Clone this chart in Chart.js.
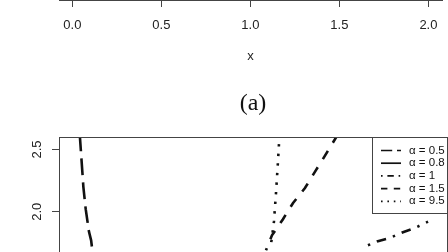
<!DOCTYPE html>
<html>
<head>
<meta charset="utf-8">
<script src="https://cdn.jsdelivr.net/npm/chart.js@4/dist/chart.umd.min.js"></script>
<style>
    html, body { margin: 0; padding: 0; background: #fff; }
    body { width: 448px; height: 252px; overflow: hidden; position: relative; }
    canvas { position: absolute; left: 0; }
    #chartA { top: -40px; }
    #chartB { top: 120px; }
</style>
</head>
<body>
<canvas id="chartA" width="448" height="170"></canvas>
<canvas id="chartB" width="448" height="230"></canvas>
<script>
// axis ticks
var xTicks = [0, 0.5, 1, 1.5, 2];
var xTickLabels = ['0.0', '0.5', '1.0', '1.5', '2.0'];
var yTicks = [1.5, 2.0, 2.5];
var yTickLabels = ['1.5', '2.0', '2.5'];

// curves of panel (b)
var alphas = ['0.5', '0.8', '1', '1.5', '9.5'];
var alpha05X = [0.040, 0.051, 0.060, 0.073, 0.091, 0.103, 0.108];
var alpha05Y = [2.62, 2.39, 2.20, 2.02, 1.84, 1.77, 1.71];
var alpha08X = [];
var alpha08Y = [];
var alpha1X = [1.637, 1.687, 1.759, 1.831, 1.898, 1.970];
var alpha1Y = [1.73, 1.76, 1.79, 1.835, 1.87, 1.92];
var alpha15X = [1.470, 1.399, 1.343, 1.288, 1.222, 1.166, 1.105, 1.072];
var alpha15Y = [2.62, 2.45, 2.32, 2.19, 2.07, 1.94, 1.81, 1.69];
var alpha95X = [1.147, 1.137, 1.127, 1.116, 1.104, 1.097];
var alpha95Y = [2.62, 2.37, 2.14, 1.92, 1.78, 1.72];

var xMin = -0.075, xMax = 2.075;
var INK = '#111';
var AXIS = '#444';
var sans = 'Liberation Sans';

// R line types, in units of line width
var lwd = 2.4;
var ltys = [[7, 3], [], [1, 3, 4, 3], [4, 4], [1, 3]];

function pts(xs, ys) {
    var out = [];
    for (var i = 0; i < xs.length; i++) out.push({ x: xs[i], y: ys[i] });
    return out;
}

var curves = [pts(alpha05X, alpha05Y), pts(alpha08X, alpha08Y), pts(alpha1X, alpha1Y),
    pts(alpha15X, alpha15Y), pts(alpha95X, alpha95Y)];

// box round the plot region
var frame = {
    id: 'frame',
    afterDraw: function (chart) {
        var a = chart.chartArea, c = chart.ctx;
        c.save();
        c.strokeStyle = AXIS;
        c.lineWidth = 1;
        c.strokeRect(Math.round(a.left) + 0.5, Math.round(a.top) + 0.5,
            Math.round(a.right) - Math.round(a.left), Math.round(a.bottom) - Math.round(a.top));
        c.restore();
    }
};

// topright legend like R's legend()
var legendBox = {
    id: 'legendBox',
    afterDatasetsDraw: function (chart) {
        var a = chart.chartArea, c = chart.ctx;
        var w = 75, h = 76;
        var left = Math.round(a.right) - w, top = Math.round(a.top);
        c.save();
        c.fillStyle = '#fff';
        c.fillRect(left, top, w, h);
        c.strokeStyle = AXIS;
        c.lineWidth = 1;
        c.strokeRect(left + 0.5, top + 0.5, w, h);
        chart.data.datasets.forEach(function (ds, i) {
            var y = top + 13.5 + i * 12.7;
            c.strokeStyle = INK;
            c.lineWidth = 1.7;
            c.setLineDash(ds.borderDash.map(function (d) { return d * 2 / 3; }));
            c.beginPath();
            c.moveTo(left + 9, y);
            c.lineTo(left + 29, y);
            c.stroke();
            c.setLineDash([]);
            c.fillStyle = INK;
            c.font = '11.5px "' + sans + '"';
            c.textBaseline = 'middle';
            c.fillText(ds.label, left + 37, y);
        });
        c.restore();
    }
};

//panel (a): only the bottom of it is in view
var ctxA = document.getElementById('chartA').getContext('2d');
var chartA = new Chart(ctxA, {
    type: 'scatter',
    data: { datasets: [] },
    options: {
        responsive: false,
        animation: false,
        layout: { padding: { left: 59, right: 1, top: 0, bottom: 12 } },
        plugins: {
            legend: { display: false },
            tooltip: { enabled: false },
            title: {
                display: true,
                text: '(a)',
                position: 'bottom',
                color: INK,
                padding: 0,
                font: { family: 'Liberation Serif', size: 24, weight: 'normal', lineHeight: 1.2 }
            }
        },
        scales: {
            x: {
                type: 'linear',
                min: xMin,
                max: xMax,
                afterFit: function (s) { s.height = 89.2; },
                afterBuildTicks: function (s) { s.ticks = xTicks.map(function (v) { return { value: v }; }); },
                border: { display: false },
                grid: { drawOnChartArea: false, tickLength: 7, color: AXIS },
                ticks: {
                    padding: 10.5,
                    maxRotation: 0,
                    autoSkip: false,
                    color: '#222',
                    font: { family: sans, size: 13 },
                    callback: function (v, i) { return xTickLabels[i]; }
                },
                title: {
                    display: true,
                    text: 'x',
                    color: '#222',
                    font: { family: sans, size: 13, lineHeight: 1.2 },
                    padding: { top: 0, bottom: 25.2 }
                }
            },
            y: { display: false, min: 0, max: 1 }
        }
    },
    plugins: [frame]
});

//panel (b): top part with the legend
var datasets = [];
alphas.forEach(function (a, i) {
    datasets.push({
        label: 'α = ' + a,
        data: curves[i],
        showLine: true,
        borderColor: INK,
        borderWidth: 2.6,
        borderDash: ltys[i].map(function (d) { return d * lwd; }),
        borderCapStyle: 'butt',
        pointRadius: 0,
        tension: 0,
        fill: false,
        clip: 0
    });
});

var ctxB = document.getElementById('chartB').getContext('2d');
var chartB = new Chart(ctxB, {
    type: 'scatter',
    data: { datasets: datasets },
    options: {
        responsive: false,
        animation: false,
        layout: { padding: { left: 0, right: 1, top: 17, bottom: 0 } },
        plugins: {
            legend: { display: false },
            tooltip: { enabled: false }
        },
        scales: {
            x: { type: 'linear', display: false, min: xMin, max: xMax },
            y: {
                min: 1.0,
                max: 2.6,
                afterFit: function (s) { s.width = 59; },
                afterBuildTicks: function (s) { s.ticks = yTicks.map(function (v) { return { value: v }; }); },
                border: { display: false },
                grid: { drawOnChartArea: false, tickLength: 7, color: AXIS },
                ticks: {
                    minRotation: 90,
                    maxRotation: 90,
                    crossAlign: 'center',
                    padding: 6,
                    autoSkip: false,
                    color: '#222',
                    font: { family: sans, size: 13 },
                    callback: function (v, i) { return yTickLabels[i]; }
                }
            }
        }
    },
    plugins: [frame, legendBox]
});
</script>
</body>
</html>
